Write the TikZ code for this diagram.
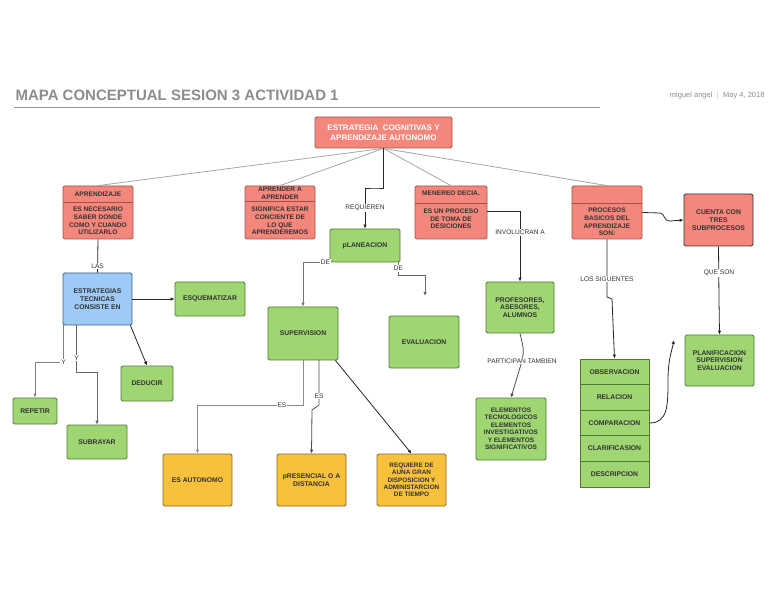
\documentclass[tikz,border=0pt]{standalone}
\usepackage{fontspec}
\setmainfont{Liberation Sans}
\usetikzlibrary{arrows.meta}
\definecolor{rf}{HTML}{F4877B}\definecolor{rd}{HTML}{A0524A}
\definecolor{gf}{HTML}{9FD672}\definecolor{gd}{HTML}{4E7A34}
\definecolor{bf}{HTML}{9DCAF6}\definecolor{bd}{HTML}{3E5E80}
\definecolor{yf}{HTML}{F8C13C}\definecolor{yd}{HTML}{8A6A20}
\definecolor{tg}{HTML}{8C8C8C}
\begin{document}
\begin{tikzpicture}[x=1pt,y=-1pt,
 box/.style={draw,rounded corners=1.5pt,line width=0.8pt,align=center,font=\bfseries\fontsize{6.8}{7.8}\selectfont,inner sep=1pt},
 red/.style={box,fill=rf,draw=rd,text=black!80},
 grn/.style={box,fill=gf,draw=gd,text=black!80},
 blu/.style={box,fill=bf,draw=bd,text=black!80},
 yel/.style={box,fill=yf,draw=yd,text=black!80},
 gl/.style={draw=black!35,line width=0.8pt},
 bl/.style={draw=black!85,line width=0.8pt,-{Latex[length=4pt,width=3.5pt]}},
 lb/.style={fill=white,inner sep=1pt,font=\fontsize{6.6}{7.6}\selectfont,text=black!80}]
\useasboundingbox (0,0) rectangle (768,593);
\node[anchor=west,text=tg,font=\bfseries\fontsize{15}{17}\selectfont] (title) at (12,95) {MAPA CONCEPTUAL SESION 3 ACTIVIDAD 1};
\draw[black!40,line width=0.8pt] (14,107) -- (600,107);
\node[anchor=east,text=tg,font=\fontsize{7.5}{9}\selectfont] (auth) at (768,96) {miguel angel \ $|$ \ May 4, 2018};
% nodes
\node[red,minimum width=137,minimum height=31,text=white,font=\bfseries\fontsize{8}{10}\selectfont] (root) at (383.5,132.5) {ESTRATEGIA\ \ COGNITIVAS Y\\APRENDIZAJE AUTONOMO};
\node[red,minimum width=70,minimum height=53] (apr) at (98,212.5) {};
\draw[rd,line width=0.6pt] (63,202) -- (133,202);
\node[lb,fill=none] (aprt) at (98,194) {\bfseries APRENDIZAJE};
\node[lb,fill=none,align=center] (aprb) at (98,221) {\bfseries ES NECESARIO\\\bfseries SABER DONDE\\\bfseries COMO Y CUANDO\\\bfseries UTILIZARLO};
\node[red,minimum width=70,minimum height=53] (apa) at (280,212.5) {};
\draw[rd,line width=0.6pt] (245,201) -- (315,201);
\node[lb,fill=none,align=center] (apat) at (280,193) {\bfseries APRENDER A\\\bfseries APRENDER};
\node[lb,fill=none,align=center] (apab) at (280,221) {\bfseries SIGNIFICA ESTAR\\\bfseries CONCIENTE DE\\\bfseries LO QUE\\\bfseries APRENDEREMOS};
\node[red,minimum width=72,minimum height=53] (men) at (451,212.5) {};
\draw[rd,line width=0.6pt] (415,203) -- (487,203);
\node[lb,fill=none] (ment) at (451,193) {\bfseries MENEREO DECIA.};
\node[lb,fill=none,align=center] (menb) at (451,219) {\bfseries ES UN PROCESO\\\bfseries DE TOMA DE\\\bfseries DESICIONES};
\node[red,minimum width=70,minimum height=53] (pro) at (607,212.5) {};
\draw[rd,line width=0.6pt] (572,203) -- (642,203);
\node[lb,fill=none,align=center] (prob) at (607,222) {\bfseries PROCESOS\\\bfseries BASICOS DEL\\\bfseries APRENDIZAJE\\\bfseries SON:};
\node[red,minimum width=69,minimum height=52,draw=black!80] (cue) at (718.5,220) {CUENTA CON\\TRES\\SUBPROCESOS};
\node[grn,minimum width=70,minimum height=33] (pla) at (365,245.5) {pLANEACION};
\node[blu,minimum width=69,minimum height=52] (est) at (97.5,299) {ESTRATEGIAS\\TECNICAS\\CONSISTE EN};
\node[grn,minimum width=70,minimum height=34] (esq) at (210,299) {ESQUEMATIZAR};
\node[grn,minimum width=70,minimum height=53] (sup) at (303,333.5) {SUPERVISION};
\node[grn,minimum width=70,minimum height=52] (eva) at (424,342) {EVALUACION};
\node[grn,minimum width=52,minimum height=35] (ded) at (147,383.5) {DEDUCIR};
\node[grn,minimum width=44,minimum height=26] (rep) at (35,411) {REPETIR};
\node[grn,minimum width=60,minimum height=34] (sub) at (97,442) {SUBRAYAR};
\node[yel,minimum width=69,minimum height=52] (aut) at (197.5,480) {ES AUTONOMO};
\node[yel,minimum width=69,minimum height=52] (pre) at (311.5,480) {pRESENCIAL O A\\DISTANCIA};
\node[yel,minimum width=69,minimum height=52,font=\bfseries\fontsize{6.4}{7.3}\selectfont] (req) at (411.5,480) {REQUIERE DE\\AUNA GRAN\\DISPOSICION Y\\ADMINISTARCION\\DE TIEMPO};
\node[grn,minimum width=68,minimum height=51] (prf) at (520,307.5) {PROFESORES,\\ASESORES,\\ALUMNOS};
\node[grn,minimum width=70,minimum height=62,font=\bfseries\fontsize{6.5}{7.5}\selectfont] (ele) at (511,429) {ELEMENTOS\\TECNOLOGICOS\\ELEMENTOS\\INVESTIGATIVOS\\Y ELEMENTOS\\SIGNIFICATIVOS};
\node[grn,minimum width=69,minimum height=51] (pln) at (719.5,360.5) {PLANIFICACION\\SUPERVISION\\EVALUACION};
\foreach \t/\n [count=\i] in {OBSERVACION/obs,RELACION/rel,COMPARACION/com,CLARIFICASION/cla,DESCRIPCION/des}
  \node[grn,rounded corners=0pt,minimum width=69,minimum height=25.6] (\n) at (614.5,359+25.6*\i-12.8) {\t};
% connectors from root
\draw[gl] (root.south) -- (apr.north);
\draw[gl] (root.south) -- (apa.north);
\draw[gl] (root.south) -- (men.north);
\draw[gl] (root.south) -- (pro.north);
\draw[bl] (root.south) |- (375,188) -| (pla.north) node[lb,pos=0.75] {REQUIEREN};
\draw[black!85,line width=0.8pt] (apr.south) -- (est.north) node[lb,pos=0.8] {LAS};
\draw[bl] (est.east) -- (esq.west);
\draw[bl] (est.south east) ++(-2,0) -- (ded.north);
\draw[gl,-{Latex[length=4pt,width=3.5pt]},draw=black!50] (est.south west) ++(1,0) |- (35,362) node[lb,pos=0.5] {Y} -- (rep.north);
\draw[bl,draw=black!60] (est.south west) ++(14,0) |- (97,372) node[lb,pos=0.35] {Y} -- (sub.north);
\coordinate (evt) at (425,296);
\draw[bl,draw=black!55] (pla.south west) ++(0,0) -| (sup.north) node[lb,pos=0.08] {DE};
\draw[bl,draw=black!60] (pla.south east) ++(-2,0) |- (evt |- 0,275) node[lb,pos=0.25] {DE} -- (evt);
\draw[bl,draw=black!45] (sup.south) |- (aut.north |- 0,405) node[lb,pos=0.6] {ES} -- (aut.north);
\draw[bl,draw=black!70] (319,360) -- (319,405) node[lb,pos=0.8] {ES} -- (312,410) -- (pre.north);
\draw[bl] (sup.south east) ++(-3,0) -- (req.north);
\draw[bl] (men.east) ++(0,-1) -| (prf.north) node[lb,pos=0.65] {INVOLUCRAN A};
\draw[bl,draw=black!70] (prf.south) .. controls (524,350) .. (522,361) node[lb] {PARTICIPAN TAMBIEN} -- (ele.north);
\draw[bl] (pro.south) -- (607,297) -- (612,299) -- (obs.north);
\node[lb] (ls) at (607,279) {LOS SIGUENTES};
\draw[bl] (pro.east) -- (660,213) .. controls (665,213) and (663,221) .. (670,221) -- (cue.west);
\draw[black!85,line width=0.8pt] (cue.south) -- (719,300);
\draw[bl] (719,300) -- (pln.north);
\node[lb] (qs) at (719,273) {QUE SON};
\coordinate (cf) at (674,340);
\draw[bl] (com.east) .. controls (668,423) and (668,405) .. (668,380) .. controls (668,360) and (672,350) .. (cf);
\end{tikzpicture}
\end{document}
